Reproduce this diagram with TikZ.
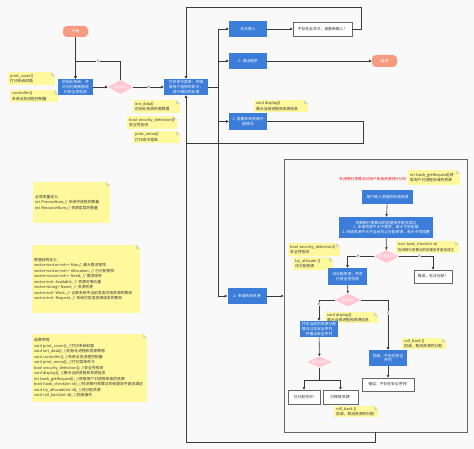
\documentclass[tikz,border=0pt]{standalone}
\usepackage{fontspec}
\setmainfont{Noto Sans CJK SC}
\usetikzlibrary{arrows.meta,shapes.geometric}
\definecolor{bgc}{HTML}{F9F9F9}
\definecolor{bluec}{HTML}{3B7DD8}
\definecolor{salmonc}{HTML}{F89A82}
\definecolor{pinkc}{HTML}{FFC7D1}
\definecolor{notec}{HTML}{FFF99E}
\definecolor{earc}{HTML}{DCD9A8}
\definecolor{linec}{HTML}{3A3A3A}
\definecolor{framec}{HTML}{666666}
\definecolor{redc}{HTML}{F01010}
\newcommand{\gtgt}{>\kern0pt>}
\begin{document}
\begin{tikzpicture}[x=1pt,y=-1pt,
  fs/.style={font=\fontsize{3.8pt}{4.8pt}\selectfont},
  box/.style 2 args={rectangle, fill=bluec, text=white, align=center, inner sep=0.5pt, fs, minimum width=#1pt, minimum height=#2pt},
  wbox/.style 2 args={rectangle, draw=framec, line width=0.6pt, fill=white, text=black!80, align=center, inner sep=0.5pt, fs, minimum width=#1pt, minimum height=#2pt},
  term/.style 2 args={rectangle, rounded corners=4pt, fill=salmonc, text=white, fs, minimum width=#1pt, minimum height=#2pt, inner sep=0pt},
  dia/.style 2 args={diamond, aspect=2, fill=pinkc, text=white, inner sep=0pt, font=\fontsize{3pt}{3.5pt}\selectfont, minimum width=#1pt, minimum height=#2pt},
  note/.style 2 args={rectangle, fill=notec, anchor=north west, text width=#1pt, minimum height=#2pt, inner xsep=2pt, inner ysep=0.5pt, align=left, text=black!80, font=\fontsize{3.8pt}{5.5pt}\selectfont,
    path picture={
      \fill[bgc] ([xshift=-4pt]path picture bounding box.north east) -- (path picture bounding box.north east) -- ([yshift=-4pt]path picture bounding box.north east) -- cycle;
      \fill[earc] ([xshift=-4pt]path picture bounding box.north east) -- ([xshift=-4pt,yshift=-4pt]path picture bounding box.north east) -- ([yshift=-4pt]path picture bounding box.north east) -- cycle;}},
  frm/.style={rectangle, draw=framec, line width=0.7pt, minimum width=183pt, minimum height=273pt, inner sep=0pt},
  ln/.style={draw=linec, line width=0.6pt},
  arr/.style={ln, -{Triangle[length=2.6pt,width=2.4pt]}},
  lbl/.style={fill=bgc, inner sep=0.4pt, text=black!60, font=\fontsize{3pt}{3.5pt}\selectfont},
  redtxt/.style={text=redc, font=\fontsize{3.7pt}{4pt}\selectfont, inner sep=0pt}
]
\fill[bgc] (0,0) rectangle (474,449);
\useasboundingbox (0,0) rectangle (474,449);

% main flow
\node[term={25}{11}] (start) at (75.5,31.5) {开始};
\node[box={35}{16}] (init) at (75.5,87) {初始化系统，并\\对可利用数据进\\行安全性检测};
\node[dia={25}{14}] (d0) at (120.5,87) {是否安全?};
\node[box={44}{16}] (menu) at (186,87) {打印命令菜单，并接\\收用户选择的命令，\\进行相应的处理};

\node[box={38}{16}] (illegal) at (248,29) {非法输入};
\node[box={38}{16}] (quit) at (248,61) {0. 退出程序};
\node[box={38}{17}] (view) at (248,121.5) {1. 查看系统资源分\\配情况};
\node[box={39}{16}] (apply) at (247,296) {2. 申请系统资源};
\node[wbox={59}{14}] (nocmd) at (322.5,29) {不存在此命令，请重新输入！};
\node[term={25}{12}] (end) at (384.5,61) {结束};

% notes left/top
\node[note={43}{13}] (ncover) at (8,72) {print\_cover()\\打印系统封面};
\node[note={44}{12}] (nctrl) at (10,90) {controller()\\系统业务流程控制器};
\node[note={43}{13}] (ninit) at (133,100) {init\_data()\\初始化系统所需数据};
\node[note={46}{13}] (nsec) at (127,116) {bool~security\_detection()\\安全性检测};
\node[note={43}{12}] (npm) at (133,131) {print\_menu()\\打印命令菜单};
\node[note={50}{12}] (ndisp) at (254,100) {void display()\\展示当前进程和资源信息};

\node[note={73}{41}] (nglob) at (33,182) {全局变量定义:\\int ProcessNum;// 系统中进程的数量\\int ResourceNum;// 资源类型的数量};
\node[note={104}{68}] (ndata) at (32,245) {数据结构定义:\\
vector<vector<int\gtgt{} Max;// 最大需求矩阵\\
vector<vector<int\gtgt{} Allocation; // 已分配矩阵\\
vector<vector<int\gtgt{} Need; // 需求矩阵\\
vector<int> Available; // 资源可用向量\\
vector<string> Name; // 资源名称\\
vector<int> Work; // 记录系统中当前各类可用资源的数目\\
vector<int> Request; // 系统对各类资源请求的数目};
\node[note={111}{68}] (nfunc) at (32,334) {函数声明:\\
void print\_cover(); //打印系统封面\\
void init\_data(); //初始化进程和资源数据\\
void controller(); //系统业务流程控制器\\
void print\_menu(); //打印菜单命令\\
bool security\_detection(); //安全性检测\\
void display(); //展示当前进程和资源信息\\
int bank\_getRequest(); //获取用户对进程申请的资源\\
bool bank\_check(int id); //检测银行家算法的前提条件是否满足\\
void try\_allocate(int id); //试分配资源\\
void roll\_back(int id); //回滚操作};

% frame
\node[frm] (fr) at (375.5,295.5) {};
\node[redtxt] (title) at (373,179) {利用银行家算法对用户申请资源进行分析};
\node[note={48}{15}] (ngr) at (408,170) {int bank\_getRequest()获\\取用户对进程申请的资源};
\node[box={51}{14}] (uin) at (387.5,197) {用户输入进程的申请资源};
\node[box={94}{21}] (cond) at (386,227.5) {判断银行家算法的前提条件是否成立\\1. 申请资源不大于需求，若大于则出错\\2. 申请资源不大于当前可以分配资源，若大于则阻塞};
\node[dia={25}{13}] (d1) at (386.5,256.5) {条件是否成立};
\node[note={48}{13}] (nsec2) at (288,243) {bool~security\_detection()\\安全性检测};
\node[note={36}{13}] (ntry) at (293,257) {try\_allocate ()\\试分配资源};
\node[note={59}{12}, font=\fontsize{3.5pt}{5.2pt}\selectfont] (nbc) at (396,241) {bool bank\_check(int id)\\检测银行家算法的前提条件是否成立};
\node[box={39}{17}] (tryb) at (347.5,276.5) {试分配资源，并进\\行安全性检测};
\node[wbox={38}{13}] (errA) at (433,276.5) {错误，无法分配！};
\node[dia={26}{13}] (d2) at (348,300) {是否安全};
\node[note={49}{11}] (ndisp2) at (325,312) {void display()\\展示当前进程和资源信息};
\node[box={38}{16}] (printb) at (319,329) {打印当前的资源分配\\情况以及安全序列，\\并输出安全序列};
\node[dia={25}{11}] (d3) at (319.5,362) {是否分配完};
\node[wbox={32}{14}] (done1) at (304,397) {已分配完毕!};
\node[wbox={35}{14}] (done2) at (340.5,397) {已释放资源!};
\node[note={40}{11}] (nrb1) at (334,406) {roll\_back ()\\回滚，取消资源的分配};
\node[note={40}{11}] (nrb2) at (402,338) {roll\_back ()\\回滚，取消资源的分配};
\node[box={38}{16}] (rollb) at (388,358) {回滚，不存在安全\\序列};
\node[wbox={52}{13}] (errB) at (388,384.5) {错误：不存在安全序列!};

% coordinates
\coordinate (c0a) at (120.5,61);
\coordinate (c0b) at (75.5,61);
\coordinate (bx) at (218,87);
\coordinate (btop) at (218,29);
\coordinate (bbot) at (218,296);
\coordinate (l1) at (361,29);
\coordinate (l2) at (361,7);
\coordinate (l3) at (186,7);
\coordinate (v1) at (363,121.5);
\coordinate (v2) at (363,143);
\coordinate (v3) at (186,143);
\coordinate (r1) at (375.5,442);
\coordinate (r2) at (186,442);
\coordinate (s3) at (319.5,380);

% connectors
\draw[arr] (start) -- (init);
\draw[arr] (init) -- (d0);
\draw[arr] (d0.north) -- (c0a) -- node[lbl]{否} (c0b) -- (init.north);
\draw[arr] (d0) -- node[lbl]{是} (menu);
\draw[ln] (menu.east) -- (bx);
\draw[ln] (btop) -- (bbot);
\draw[arr] (btop) -- (illegal);
\draw[arr] (quit.west -| bx) -- (quit);
\draw[arr] (view.west -| bx) -- (view);
\draw[arr] (bbot) -- (apply);
\draw[arr] (illegal) -- (nocmd);
\draw[arr] (quit) -- (end);
\draw[arr] (nocmd.east) -- (l1) -- (l2) -- (l3) -- (menu.north);
\draw[ln] (view.east) -- (v1) -- (v2) -- (v3);
\draw[arr] (apply.east) -- (apply.east -| fr.west);
\draw[arr] (fr.south) -- (r1) -- (r2) -- (menu.south);

\draw[arr] (uin) -- (cond);
\draw[arr] (cond) -- (d1);
\draw[arr] (d1.west) -| node[lbl,pos=0.3]{是} (tryb.north);
\draw[arr] (d1.east) -| node[lbl,pos=0.3]{否} (errA.north);
\draw[arr] (tryb) -- (d2);
\draw[arr] (d2.west) -| node[lbl,pos=0.6]{是} (printb.north);
\draw[arr] (d2.east) -| node[lbl,pos=0.63]{否} (rollb.north);
\draw[arr] (printb) -- (d3);
\draw[ln] (d3.south) -- (s3);
\draw[arr] (s3) -| (done1.north);
\draw[arr] (s3) -| (done2.north);
\draw[arr] (rollb) -- (errB);
\end{tikzpicture}
\end{document}
